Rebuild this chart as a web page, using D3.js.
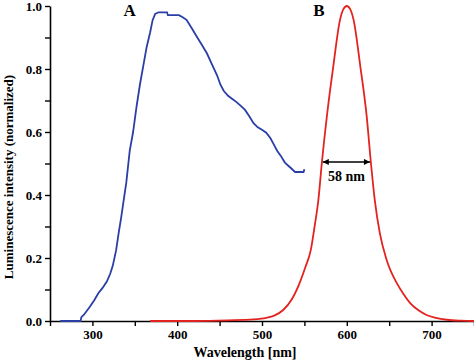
<!DOCTYPE html>
<html>
<head>
<meta charset="utf-8">
<script src="https://cdnjs.cloudflare.com/ajax/libs/d3/7.8.5/d3.min.js"></script>
<style>
  body { margin: 0; background: #fff; }
  text { font-family: "Liberation Serif", "DejaVu Serif", serif; font-weight: bold; }
</style>
</head>
<body>
<script>
// excitation spectrum (A)
const waveA = [262, 286, 287, 290, 297, 302, 307, 312, 317, 321, 324, 328, 331, 334, 337, 340, 344, 348, 352, 356,
  360, 364, 368, 371, 374, 378, 388, 389, 402, 406, 411, 417, 423, 429, 435, 441, 447, 451, 455, 460,
  465, 470, 475, 480, 485, 490, 495, 500, 505, 510, 514, 518, 522, 527, 533, 539, 549, 550];
const intA = [0, 0, 0.012, 0.02, 0.045, 0.065, 0.088, 0.105, 0.125, 0.15, 0.175, 0.225, 0.28, 0.33, 0.385, 0.44, 0.54, 0.6, 0.68, 0.75,
  0.81, 0.87, 0.915, 0.955, 0.975, 0.98, 0.98, 0.971, 0.971, 0.965, 0.956, 0.93, 0.903, 0.877, 0.85, 0.815, 0.78, 0.75, 0.73, 0.715,
  0.705, 0.695, 0.683, 0.67, 0.65, 0.628, 0.615, 0.607, 0.598, 0.58, 0.56, 0.54, 0.525, 0.503, 0.488, 0.473, 0.473, 0.482];

// emission spectrum (B)
const waveB = [368, 420, 460, 490, 505, 515, 525, 535, 545, 551, 557.5, 562, 566.5, 570.5, 576.5, 584, 592, 596, 600,
  604, 608, 616, 623.5, 628.5, 633, 639, 647, 659, 667, 675, 685, 694, 705, 718, 735, 750];
const intB = [0, 0, 0.002, 0.005, 0.01, 0.018, 0.035, 0.068, 0.125, 0.17, 0.225, 0.3, 0.385, 0.5, 0.65, 0.807, 0.956, 0.99, 1.0,
  0.99, 0.956, 0.807, 0.649, 0.5, 0.384, 0.278, 0.194, 0.12, 0.085, 0.056, 0.033, 0.019, 0.01, 0.004, 0.001, 0];

const xTicks = [250, 300, 350, 400, 450, 500, 550, 600, 650, 700, 750];
const yTicks = [0, 0.1, 0.2, 0.3, 0.4, 0.5, 0.6, 0.7, 0.8, 0.9, 1.0];
const fwhm = {from: 570.5, to: 628.5, level: 0.505, label: '58 nm'};

const width = 474, height = 364;
const margin = {top: 6, right: 0, bottom: 43, left: 50};

const svg = d3.select('body').append('svg')
  .attr('width', width)
  .attr('height', height);

const x = d3.scaleLinear().domain([250, 750]).range([margin.left, width - margin.right]);
const y = d3.scaleLinear().domain([0, 1]).range([height - margin.bottom, margin.top]);

const xAxis = d3.axisBottom(x)
  .tickValues(xTicks)
  .tickSize(5)
  .tickSizeOuter(0)
  .tickPadding(4)
  .tickFormat(d => d % 100 === 0 ? d : '');

const yAxis = d3.axisLeft(y)
  .tickValues(yTicks)
  .tickSize(5)
  .tickSizeOuter(0)
  .tickPadding(3)
  .tickFormat(d => Math.round(d * 10) % 2 === 0 ? d3.format('.1f')(d) : '');

const gx = svg.append('g')
  .attr('transform', `translate(0,${y(0)})`)
  .call(xAxis);
const gy = svg.append('g')
  .attr('transform', `translate(${x(250)},0)`)
  .call(yAxis);

[gx, gy].forEach(g => {
  g.select('.domain').attr('stroke', '#000').attr('stroke-width', 1.6);
  g.selectAll('.tick line').attr('stroke', '#000').attr('stroke-width', 1.4);
  g.selectAll('.tick text').attr('fill', '#000').style('font-size', '13px')
    .style('font-family', '"Liberation Serif", serif').style('font-weight', 'bold');
});

const line = d3.line()
  .x(d => x(d[0]))
  .y(d => y(d[1]));

svg.append('path')
  .datum(d3.zip(waveB, intB))
  .attr('fill', 'none')
  .attr('stroke', '#e3231f')
  .attr('stroke-width', 1.8)
  .attr('d', line.curve(d3.curveMonotoneX));

svg.append('path')
  .datum(d3.zip(waveA, intA))
  .attr('fill', 'none')
  .attr('stroke', '#2a3ea6')
  .attr('stroke-width', 1.8)
  .attr('d', d3.line().x(d => x(d[0])).y(d => y(d[1])));

// FWHM arrow
const defs = svg.append('defs');
['start', 'end'].forEach(k => {
  defs.append('marker')
    .attr('id', 'arr-' + k)
    .attr('viewBox', '0 0 10 10')
    .attr('refX', k === 'end' ? 10 : 0).attr('refY', 5)
    .attr('markerWidth', 7).attr('markerHeight', 6)
    .attr('markerUnits', 'userSpaceOnUse')
    .attr('orient', 'auto')
    .append('path')
    .attr('d', k === 'end' ? 'M0,0L10,5L0,10Z' : 'M10,0L0,5L10,10Z')
    .attr('fill', '#000');
});

svg.append('line')
  .attr('x1', x(fwhm.from) + 1).attr('x2', x(fwhm.to) - 1)
  .attr('y1', y(fwhm.level)).attr('y2', y(fwhm.level))
  .attr('stroke', '#000').attr('stroke-width', 1.6)
  .attr('marker-start', 'url(#arr-start)')
  .attr('marker-end', 'url(#arr-end)');

svg.append('text')
  .attr('x', x((fwhm.from + fwhm.to) / 2)).attr('y', y(fwhm.level) + 19)
  .attr('text-anchor', 'middle')
  .style('font-size', '14px')
  .text(fwhm.label);

svg.append('text').attr('x', x(344)).attr('y', 16)
  .attr('text-anchor', 'middle').style('font-size', '17px').text('A');
svg.append('text').attr('x', x(567)).attr('y', 16)
  .attr('text-anchor', 'middle').style('font-size', '17px').text('B');

// axis titles
svg.append('text')
  .attr('x', 245).attr('y', 357)
  .attr('text-anchor', 'middle')
  .style('font-size', '14px')
  .text('Wavelength [nm]');

svg.append('text')
  .attr('transform', 'translate(13,177) rotate(-90)')
  .attr('text-anchor', 'middle')
  .style('font-size', '13px')
  .text('Luminescence intensity (normalized)');
</script>
</body>
</html>
